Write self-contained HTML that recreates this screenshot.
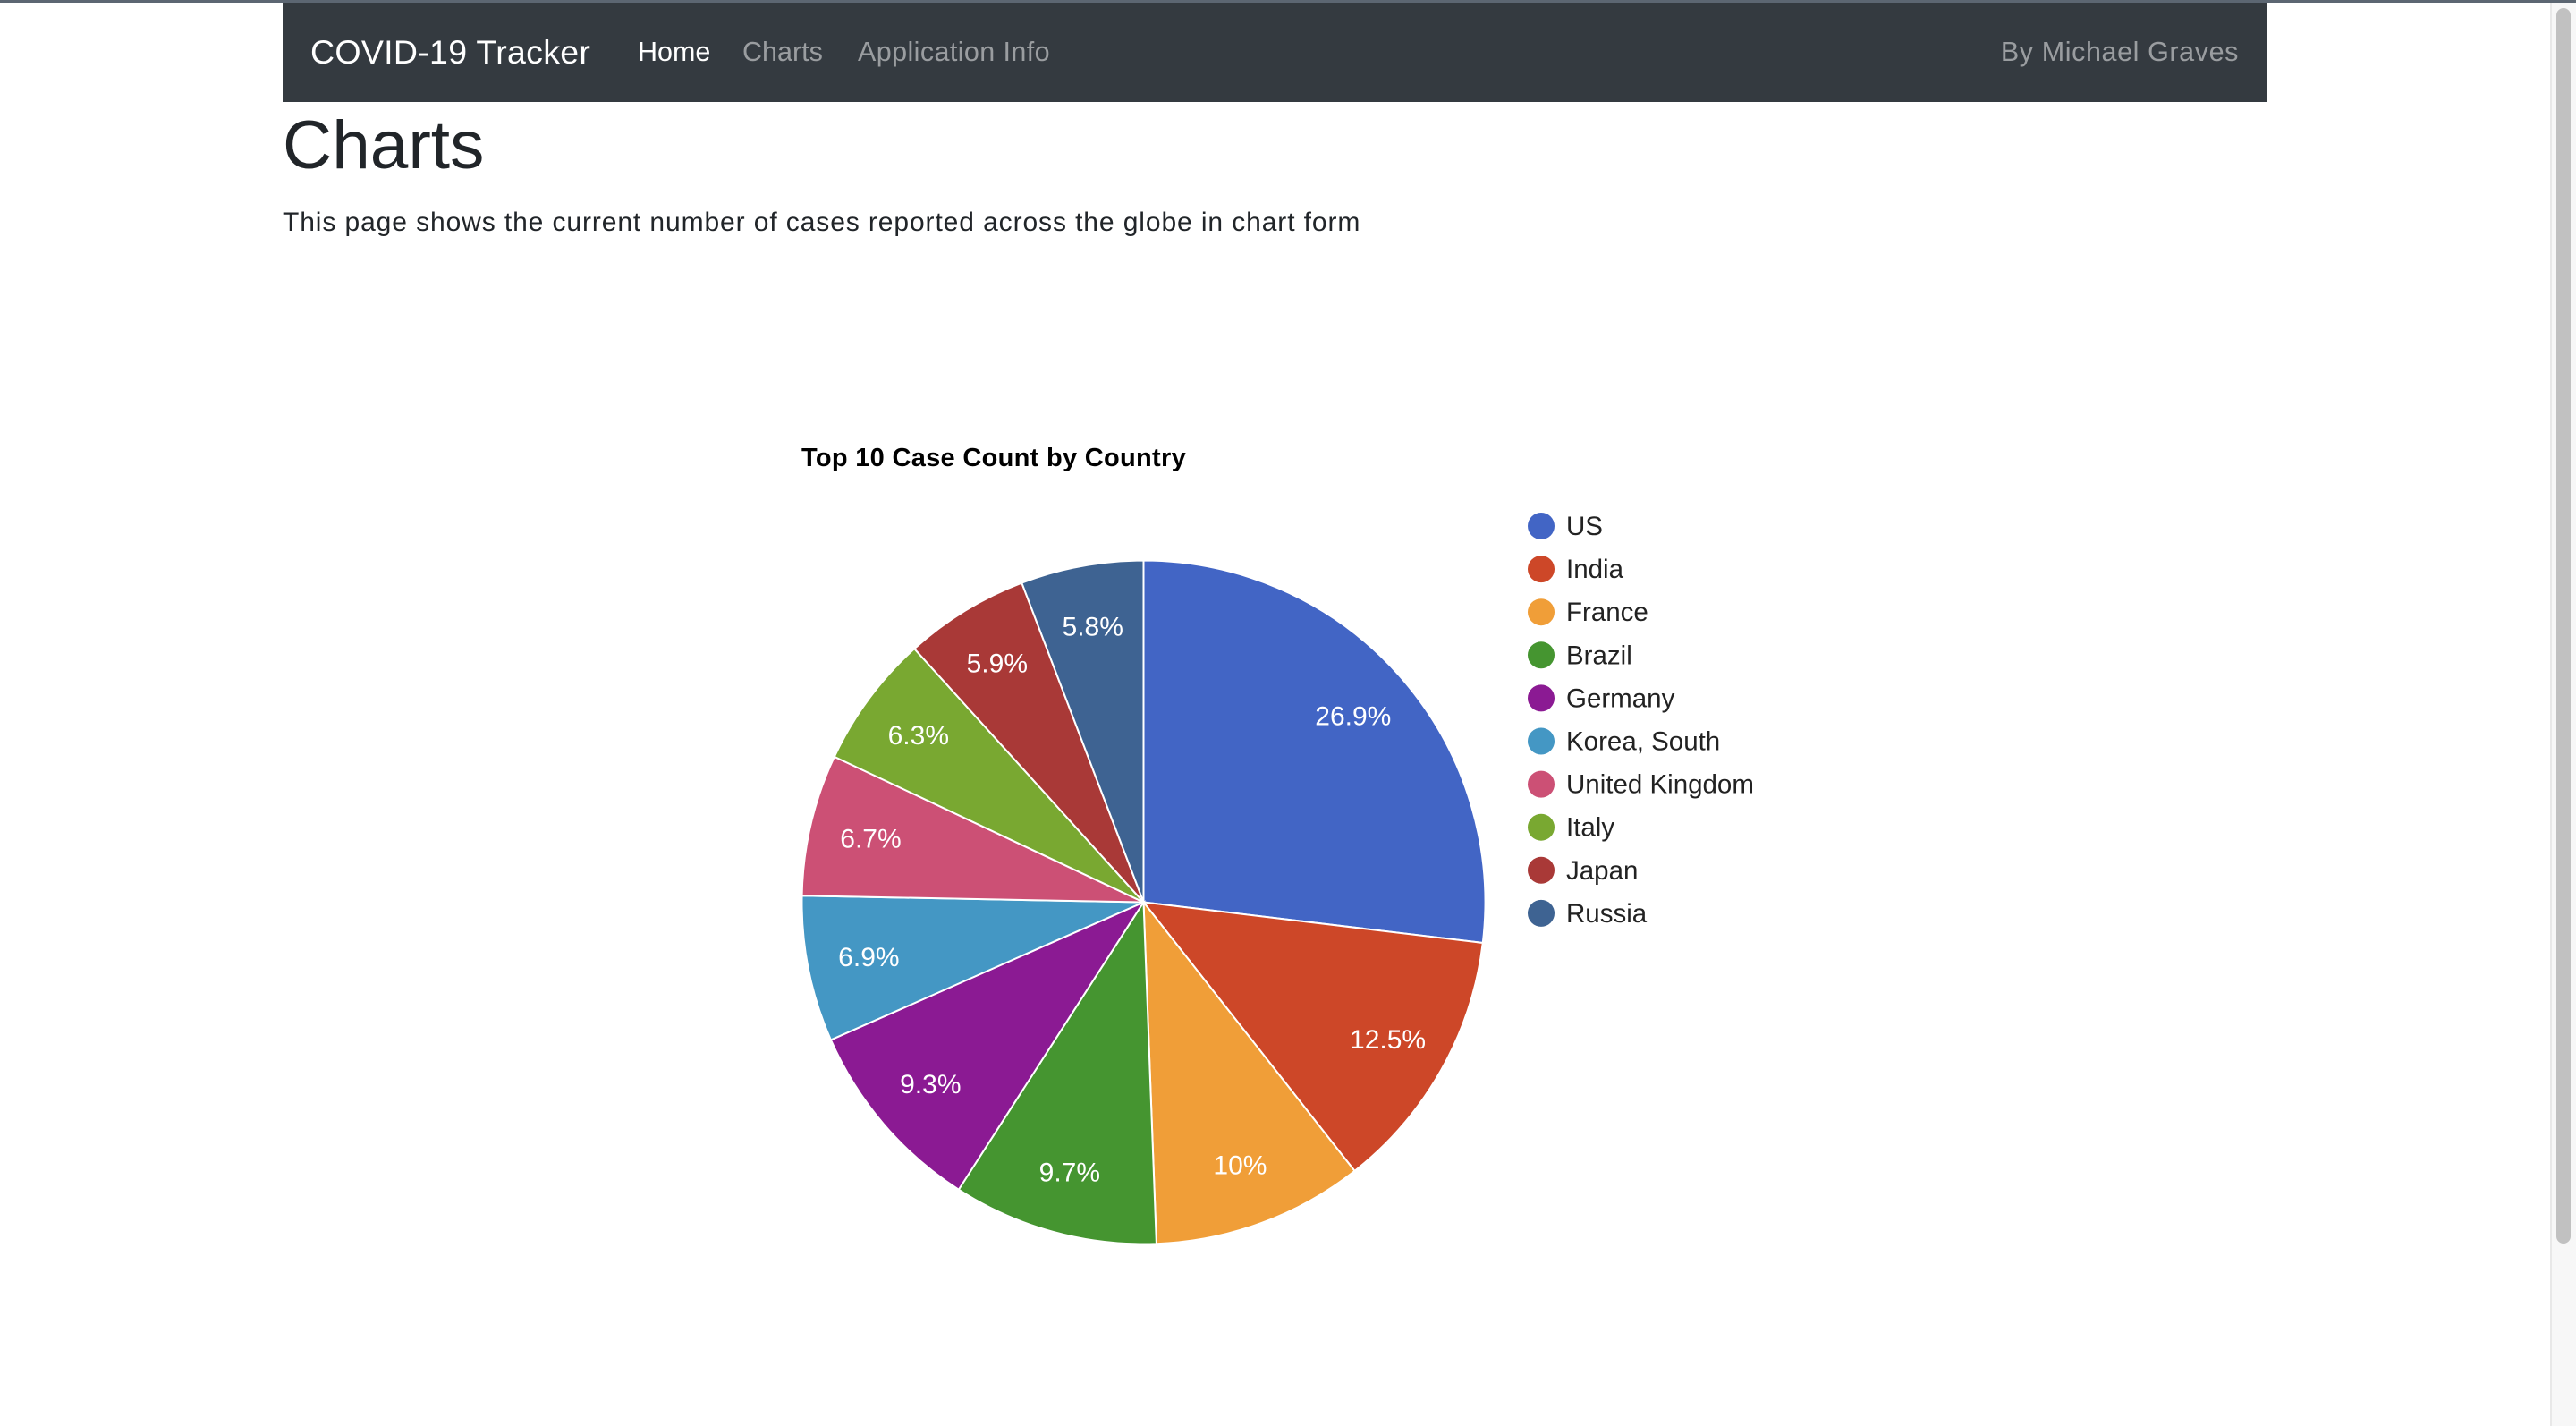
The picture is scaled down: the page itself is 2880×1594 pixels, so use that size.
<!DOCTYPE html>
<html><head><meta charset="utf-8"><style>
html,body{margin:0;padding:0;width:2880px;height:1594px;overflow:hidden;background:#fff;font-family:"Liberation Sans",Arial,sans-serif;position:relative}
.abs{position:absolute}
#topline{left:0;top:0;width:2880px;height:3px;background:#5c6672}
#nav{left:316px;top:3px;width:2219px;height:111px;background:#343a40}
.nl{position:absolute;top:0;line-height:111px;font-size:30.5px;color:rgba(255,255,255,.5);white-space:nowrap}
#brand{left:31px;font-size:37.5px;color:#fff;letter-spacing:0.3px}
h1{position:absolute;left:316px;top:113px;margin:0;font-size:76.5px;font-weight:500;color:#212529;line-height:100px}
#lead{left:316px;top:232px;margin:0;font-size:30px;color:#212529;letter-spacing:0.9px}
#track{left:2851px;top:3px;width:29px;height:1591px;background:#f7f7f7;border-left:2px solid #e8e8e8}
#thumb{left:2858px;top:9px;width:16px;height:1381px;background:#c1c1c1;border-radius:8px}
</style></head><body>
<div id="topline" class="abs"></div>
<div id="nav" class="abs">
  <span class="nl" id="brand">COVID-19 Tracker</span>
  <span class="nl" style="left:397px;color:#fff">Home</span>
  <span class="nl" style="left:514px">Charts</span>
  <span class="nl" style="left:643px;letter-spacing:0.4px">Application Info</span>
  <span class="nl" style="right:32px;letter-spacing:0.6px">By Michael Graves</span>
</div>
<h1>Charts</h1>
<p id="lead" class="abs">This page shows the current number of cases reported across the globe in chart form</p>
<svg id="chart" class="abs" style="left:0;top:0" width="2880" height="1594">
  <text x="896" y="521" font-size="29" font-weight="bold" fill="#000" letter-spacing="0.3" font-family="Liberation Sans, Arial, sans-serif">Top 10 Case Count by Country</text>
  <g id="slices"></g><g id="labels"></g><g id="legend"></g>
</svg>
<div id="track" class="abs"></div>
<div id="thumb" class="abs"></div>
<script>
const countries=["US","India","France","Brazil","Germany","Korea, South","United Kingdom","Italy","Japan","Russia"];
const values=[26.9,12.5,10,9.7,9.3,6.9,6.7,6.3,5.9,5.8];
const colors=["#4265c5","#cd4728","#f09e38","#459530","#8b1a93","#4497c4","#cc5075","#79a831","#a93937","#3e6392"];
const NS="http://www.w3.org/2000/svg";
const cx=1278.5,cy=1008.5,R=382;
const total=values.reduce((a,b)=>a+b,0);
function pt(frac,r){const a=frac*2*Math.PI;return [cx+r*Math.sin(a),cy-r*Math.cos(a)];}
const gS=document.getElementById('slices'),gL=document.getElementById('labels'),gG=document.getElementById('legend');
let acc=0;
values.forEach((v,i)=>{
  const f0=acc/total,f1=(acc+v)/total;acc+=v;
  const p0=pt(f0,R),p1=pt(f1,R);
  const large=(f1-f0)>0.5?1:0;
  const p=document.createElementNS(NS,'path');
  p.setAttribute('d',`M${cx},${cy}L${p0[0]},${p0[1]}A${R},${R} 0 ${large} 1 ${p1[0]},${p1[1]}Z`);
  p.setAttribute('fill',colors[i]);p.setAttribute('stroke','#fff');p.setAttribute('stroke-width','2');
  
  
  gS.appendChild(p);
  const lp=pt((f0+f1)/2,R*0.82);
  const t=document.createElementNS(NS,'text');
  t.setAttribute('x',lp[0]);t.setAttribute('y',lp[1]+10);
  t.setAttribute('text-anchor','middle');t.setAttribute('fill','#fff');t.setAttribute('font-size','30');
  t.setAttribute('font-family','Liberation Sans, Arial, sans-serif');
  t.textContent=(Math.round(v/total*1000)/10)+'%';
  
  
  gL.appendChild(t);
  const ly=588+i*48.1;
  const c=document.createElementNS(NS,'circle');
  c.setAttribute('cx',1723);c.setAttribute('cy',ly);c.setAttribute('r',15);c.setAttribute('fill',colors[i]);
  
  
  gG.appendChild(c);
  const lt=document.createElementNS(NS,'text');
  lt.setAttribute('x',1751);lt.setAttribute('y',ly+10);lt.setAttribute('font-size','29.5');lt.setAttribute('fill','#222');
  lt.setAttribute('font-family','Liberation Sans, Arial, sans-serif');
  lt.textContent=countries[i];
  
  
  gG.appendChild(lt);
});
</script>
</body></html>
